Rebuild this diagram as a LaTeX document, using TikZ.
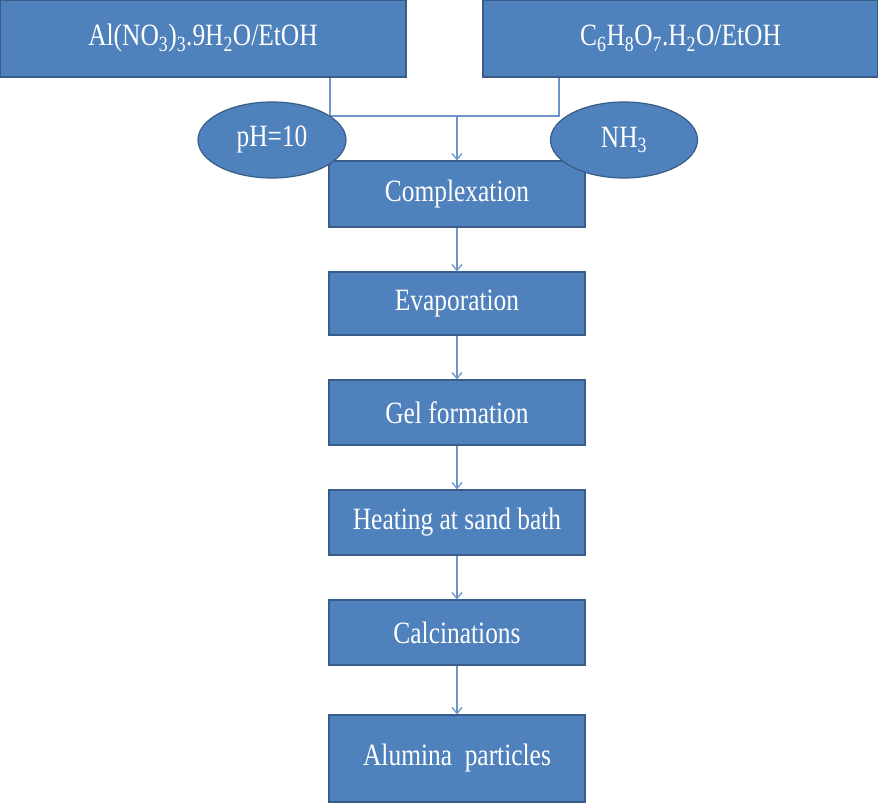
\documentclass[tikz,border=0pt]{standalone}
\usepackage{fontspec}
\setmainfont{Liberation Serif}[FakeStretch=0.82]
\usetikzlibrary{shapes.geometric,arrows.meta}
\definecolor{bfill}{HTML}{4F81BD}
\definecolor{bdraw}{HTML}{385D8A}
\definecolor{lcol}{HTML}{6E95C8}
\tikzset{
 pbox/.style={draw=bdraw,fill=bfill,line width=1.2pt,text=white,font=\fontsize{31}{34}\selectfont},
 pell/.style={ellipse,draw=bdraw,fill=bfill,line width=1.2pt,text=white,inner sep=0pt,font=\fontsize{31}{34}\selectfont},
 conn/.style={draw=lcol,line width=1.3pt},
 arr/.style={conn,-{Straight Barb[length=6pt,width=10pt]}}
}
\begin{document}
\begin{tikzpicture}[x=1pt,y=1pt]
\useasboundingbox (0,0) rectangle (878,811);
\def\bx#1#2#3#4{\node[pbox,minimum width=256pt,minimum height=#3pt] (#1) at (457,{811-#2}) {#4};}
\node[pbox,minimum width=406pt,minimum height=77pt] (a) at (203,772.5) {Al(NO\textsubscript{3})\textsubscript{3}.9H\textsubscript{2}O/EtOH};
\node[pbox,minimum width=395pt,minimum height=77pt] (b) at (680.5,772.5) {C\textsubscript{6}H\textsubscript{8}O\textsubscript{7}.H\textsubscript{2}O/EtOH};
\bx{c}{194}{66}{Complexation}
\bx{e}{303.5}{63}{Evaporation}
\bx{g}{412.5}{65}{Gel formation}
\bx{h}{522.5}{65}{Heating at sand bath}
\bx{k}{632.5}{65}{Calcinations}
\bx{m}{758.5}{87}{Alumina\ \ particles}
\coordinate (j) at (457,{811-116});
\draw[conn] (a.south -| 330,0) |- (j);
\draw[conn] (b.south -| 559,0) |- (j);
\draw[arr] (j) -- (c);
\draw[arr] (c) -- (e);
\draw[arr] (e) -- (g);
\draw[arr] (g) -- (h);
\draw[arr] (h) -- (k);
\draw[arr] (k) -- (m);
\node[pell,minimum width=148pt,minimum height=76pt] (p) at (272,{811-140}) {pH=10};
\node[pell,minimum width=147pt,minimum height=76pt] (n) at (624,{811-140}) {NH\textsubscript{3}};
\end{tikzpicture}
\end{document}
